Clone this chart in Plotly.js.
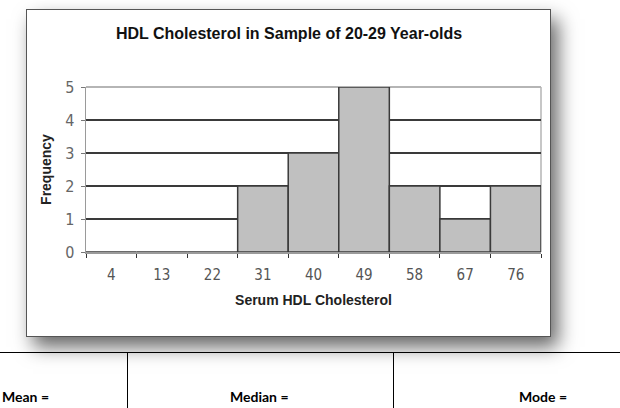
<!DOCTYPE html>
<html>
<head>
<meta charset="utf-8">
<script src="https://cdn.plot.ly/plotly-3.0.1.min.js"></script>
<style>
  html, body { margin: 0; padding: 0; background: #ffffff; }
  #wrap { position: relative; width: 620px; height: 408px; overflow: hidden; background: #fff; }
  #frame { position: absolute; left: 26px; top: 9px; width: 523px; height: 326px;
           background: #fff; border: 1px solid #555;
           box-shadow: 7px 10px 18px rgba(0,0,0,0.6); }
  #chart { position: absolute; left: 0; top: 0; width: 620px; height: 408px; }
</style>
</head>
<body>
<div id="wrap">
  <div id="frame"></div>
  <div id="chart"></div>
</div>
<script>
// Data
const categories = ["4", "13", "22", "31", "40", "49", "58", "67", "76"];
const frequency  = [0, 0, 0, 2, 3, 5, 2, 1, 2];
const yTicks     = [0, 1, 2, 3, 4, 5];
const titleText  = "HDL Cholesterol in Sample of 20-29 Year-olds";
const xTitle     = "Serum HDL Cholesterol";
const yTitle     = "Frequency";
const tableLabels = ["Mean =", "Median =", "Mode ="];

// Layout geometry (pixels)
const W = 620, H = 408;
const M = {l: 86, r: 79, t: 87, b: 156};
const PW = W - M.l - M.r, PH = H - M.t - M.b;
const px = x => (x - M.l) / PW;
const py = y => (H - M.b - y) / PH;

const trace = {
  type: "bar",
  x: categories,
  y: frequency,
  marker: { color: "#c0c0c0", line: { color: "#3a3a3a", width: 1.5 } },
  hoverinfo: "x+y"
};

const tableFont = { family: "Lato, Open Sans, sans-serif", size: 14, color: "#000", weight: "bold" };
const tickFamily = "DejaVu Sans Condensed, Liberation Sans, Arial, sans-serif";

const layout = {
  width: W, height: H,
  margin: M,
  paper_bgcolor: "rgba(0,0,0,0)",
  plot_bgcolor: "#ffffff",
  bargap: 0,
  showlegend: false,
  font: { family: "Liberation Sans, Arial, sans-serif", color: "#222" },
  title: {
    text: titleText,
    font: { family: "Liberation Sans, Arial, sans-serif", size: 16, color: "#111", weight: "bold" },
    x: px(289), xanchor: "center", xref: "paper",
    y: 1 - 33 / H, yanchor: "middle", yref: "container"
  },
  xaxis: {
    type: "category",
    categoryorder: "array",
    categoryarray: categories,
    showline: true, linecolor: "#9a9a9a", linewidth: 2,
    ticks: "outside", tickson: "boundaries", ticklen: 4, tickcolor: "#333", tickwidth: 1,
    tickfont: { family: tickFamily, size: 15, color: "#555" },
    ticklabelstandoff: 8,
    showgrid: false, zeroline: false,
    title: { text: xTitle, font: { size: 14, color: "#222", weight: "bold" }, standoff: 12 },
    fixedrange: true
  },
  yaxis: {
    range: [0, 5],
    tickvals: yTicks,
    showline: true, linecolor: "#9a9a9a", linewidth: 1.5,
    ticks: "outside", ticklen: 4, tickcolor: "#777",
    tickfont: { family: tickFamily, size: 16, color: "#666" },
    ticklabelstandoff: 3,
    showgrid: true, gridcolor: "#3a3a3a", gridwidth: 1.5,
    zeroline: false,
    title: { text: yTitle, font: { size: 14, color: "#222", weight: "bold" }, standoff: 10 },
    fixedrange: true
  },
  shapes: [
    // top & right plot border in light gray
    { type: "line", xref: "paper", yref: "paper", x0: 0, x1: 1, y0: 1, y1: 1,
      line: { color: "#b5b5b5", width: 2 }, layer: "between" },
    { type: "line", xref: "paper", yref: "paper", x0: 1, x1: 1, y0: 0, y1: 1,
      line: { color: "#b5b5b5", width: 1.5 }, layer: "between" },
    // table lines below chart
    { type: "line", xref: "paper", yref: "paper", x0: px(0), x1: px(620), y0: py(352.5), y1: py(352.5),
      line: { color: "#000", width: 1 } },
    { type: "line", xref: "paper", yref: "paper", x0: px(127.5), x1: px(127.5), y0: py(352.5), y1: py(410),
      line: { color: "#000", width: 1 } },
    { type: "line", xref: "paper", yref: "paper", x0: px(393.5), x1: px(393.5), y0: py(352.5), y1: py(410),
      line: { color: "#000", width: 1 } }
  ],
  annotations: [
    { text: tableLabels[0], xref: "paper", yref: "paper", x: px(0), y: py(407), xanchor: "left", yanchor: "bottom",
      showarrow: false, font: tableFont },
    { text: tableLabels[1], xref: "paper", yref: "paper", x: px(228), y: py(407), xanchor: "left", yanchor: "bottom",
      showarrow: false, font: tableFont },
    { text: tableLabels[2], xref: "paper", yref: "paper", x: px(517), y: py(407), xanchor: "left", yanchor: "bottom",
      showarrow: false, font: tableFont }
  ]
};

Plotly.newPlot("chart", [trace], layout, { displayModeBar: false, staticPlot: true });
</script>
</body>
</html>
